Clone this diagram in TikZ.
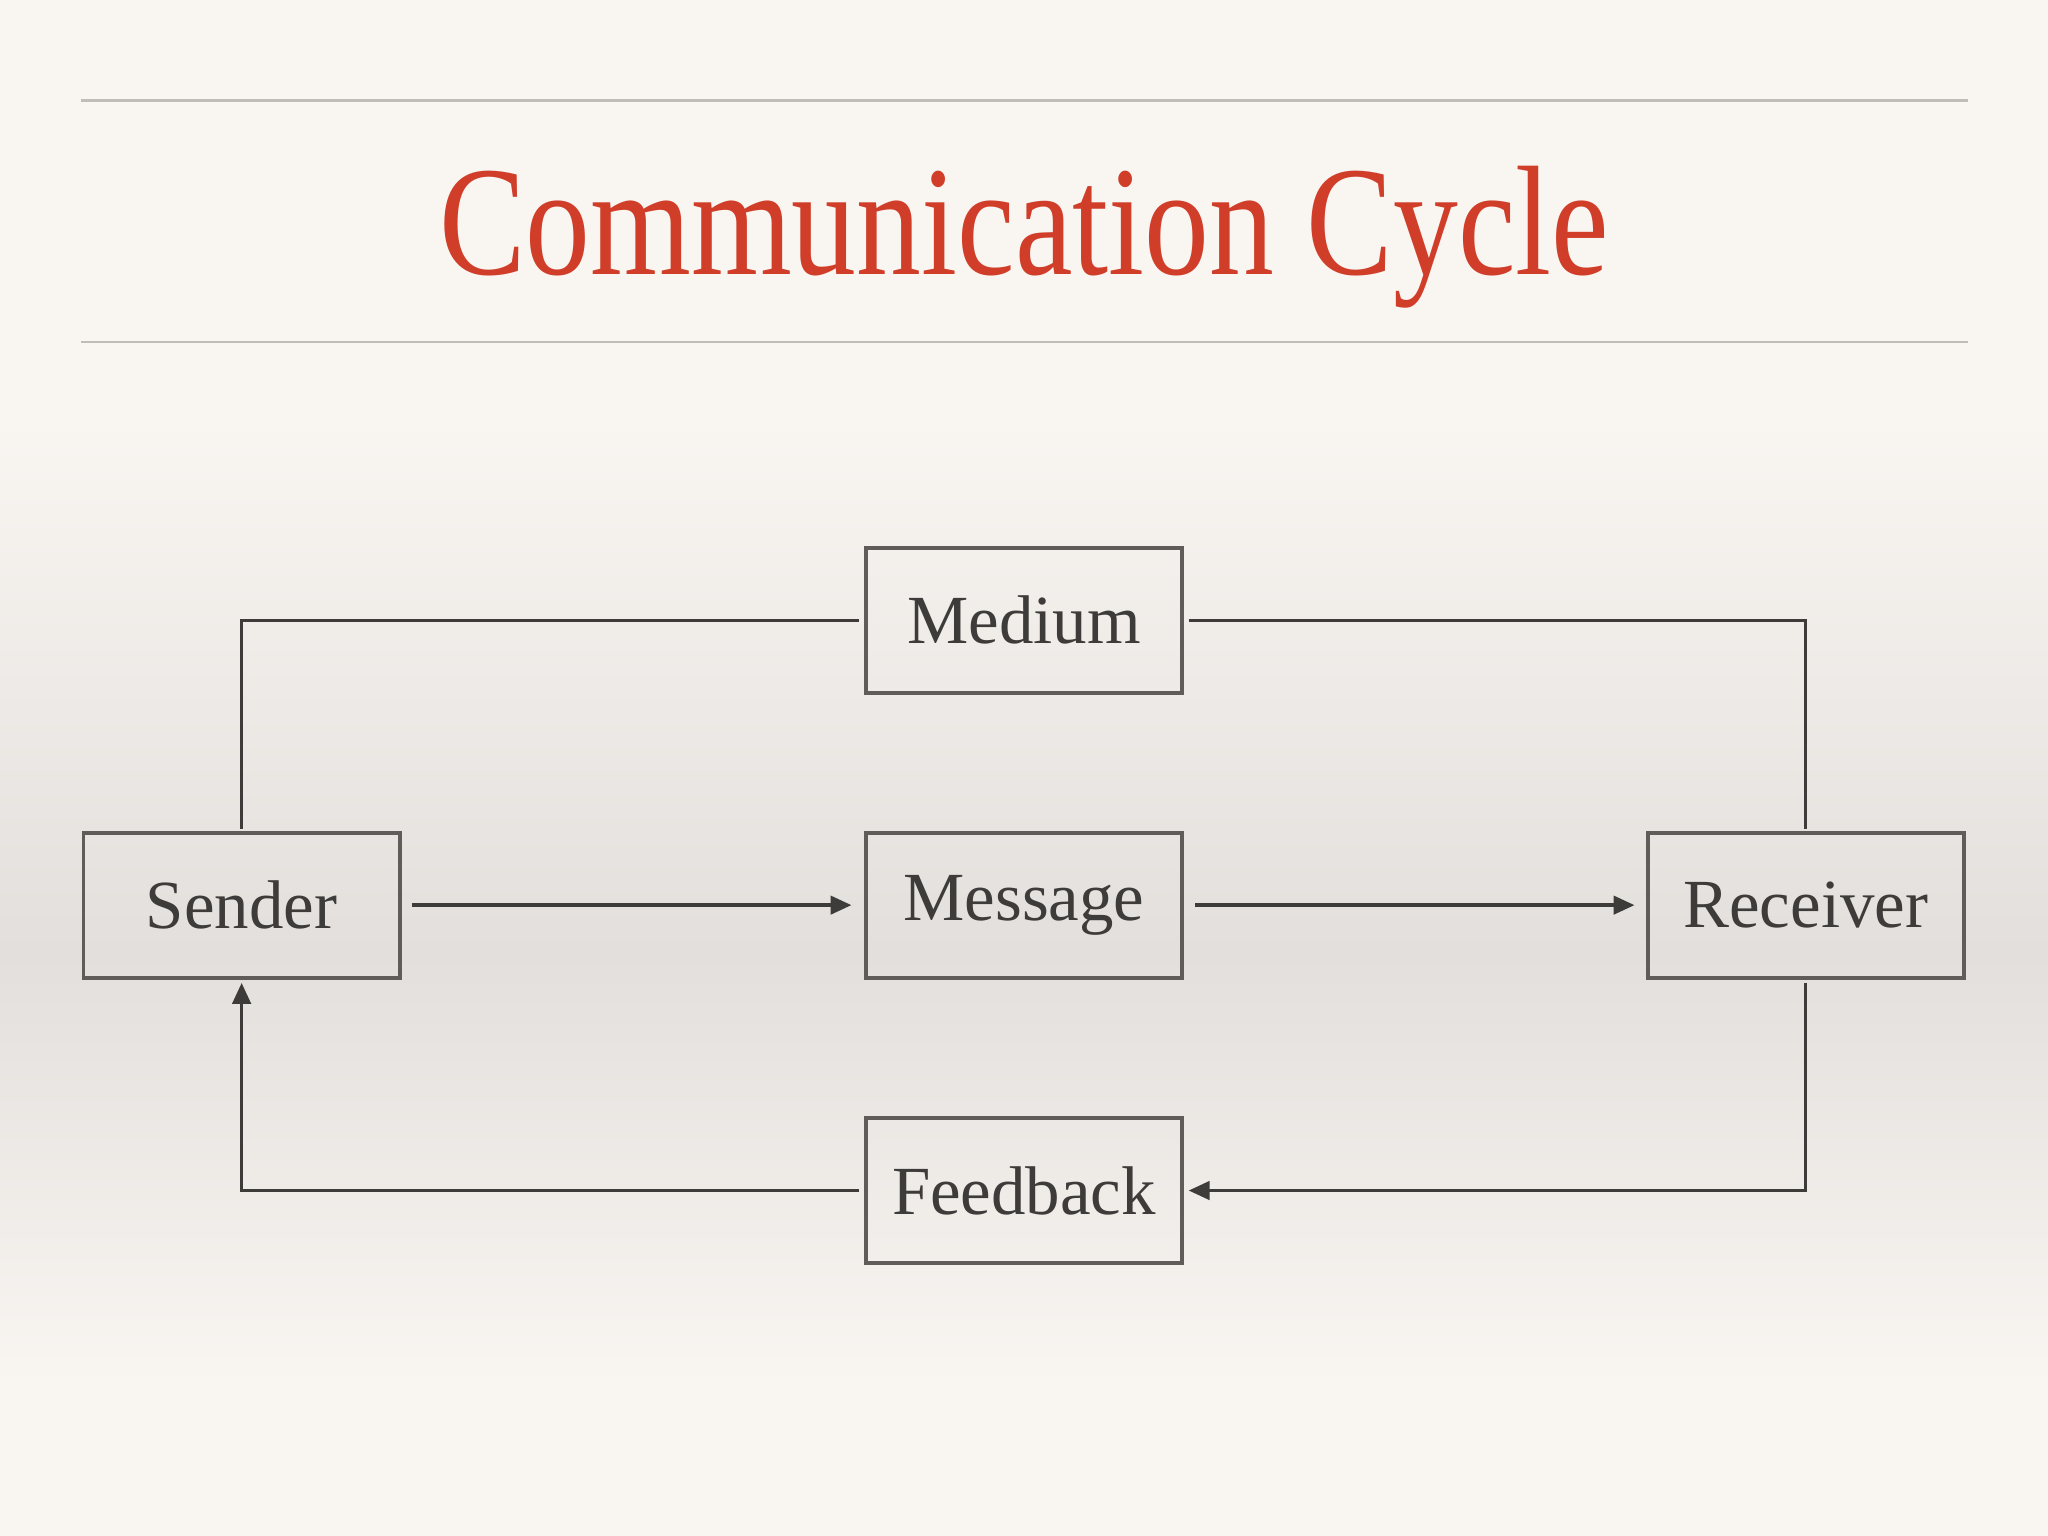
\documentclass[tikz,border=0pt]{standalone}
\usepackage{xcolor}
\usepackage{tikz}
\usepackage{fontspec}
\setmainfont{Liberation Serif}
\usetikzlibrary{arrows.meta,positioning}
\definecolor{cycleRed}  {RGB}{208, 62, 42}
\definecolor{boxGray}   {RGB}{95,  92,  90}
\definecolor{lineDark}  {RGB}{62,  60,  58}
\definecolor{textDark}  {RGB}{62,  60,  58}
\definecolor{ruleGray}  {RGB}{192, 188, 184}
\definecolor{bgLight}   {RGB}{249, 246, 242}
\definecolor{bgMid}     {RGB}{227, 223, 220}

\begin{document}
\begin{tikzpicture}[x=0.01cm,y=-0.01cm,
          stage/.style={draw=boxGray,line width=0.85pt,outer sep=0pt,
                        minimum width=2.42cm,minimum height=1.11cm,
                        text=textDark,font=\fontsize{15}{18}\selectfont},
          conn/.style={lineDark,line width=0.75pt},
          flow/.style={conn,-{Triangle[length=1.6mm,width=1.4mm]}},
        ]
        % Fond
        \fill[bgLight] (0,0) rectangle (1568,320);
        \shade[top color=bgLight,bottom color=bgMid] (0,320) rectangle (1568,730);
        \shade[top color=bgMid,bottom color=bgLight] (0,730) rectangle (1568,1060);
        \fill[bgLight] (0,1060) rectangle (1568,1176);
        \useasboundingbox (0,0) rectangle (1568,1176);
        \draw[ruleGray,line width=0.5pt] (62,77) -- (1507,77);
        \draw[ruleGray,line width=0.5pt] (62,262) -- (1507,262);
        % Titre
        \node[anchor=base,text=cycleRed,font=\fontsize{34}{40}\selectfont]
          (title) at (784,210) {\scalebox{0.83}[1]{Communication Cycle}};
        % Noeuds
        \node[stage] (medium)   at (784,475)    {Medium};
        \node[stage] (message)  at (784,693)    {Message};
        \node[stage] (sender)   at (185,693)    {Sender};
        \node[stage] (receiver) at (1382.5,693) {Receiver};
        \node[stage] (feedback) at (784,911.5)  {Feedback};
        % Liens
        \draw[conn,shorten <=0.3mm,shorten >=0.5mm] (sender.north) |- (medium.west);
        \draw[conn,shorten <=0.5mm,shorten >=0.3mm] (medium.east) -| (receiver.north);
        \draw[flow,shorten <=0.9mm,shorten >=1.1mm] (sender) -- (message);
        \draw[flow,shorten <=1mm,shorten >=1mm] (message) -- (receiver);
        \draw[flow,shorten <=0.4mm,shorten >=0.5mm] (receiver.south) |- (feedback.east);
        \draw[flow,shorten <=0.5mm,shorten >=0.4mm] (feedback.west) -| (sender.south);
      \end{tikzpicture}
\end{document}
